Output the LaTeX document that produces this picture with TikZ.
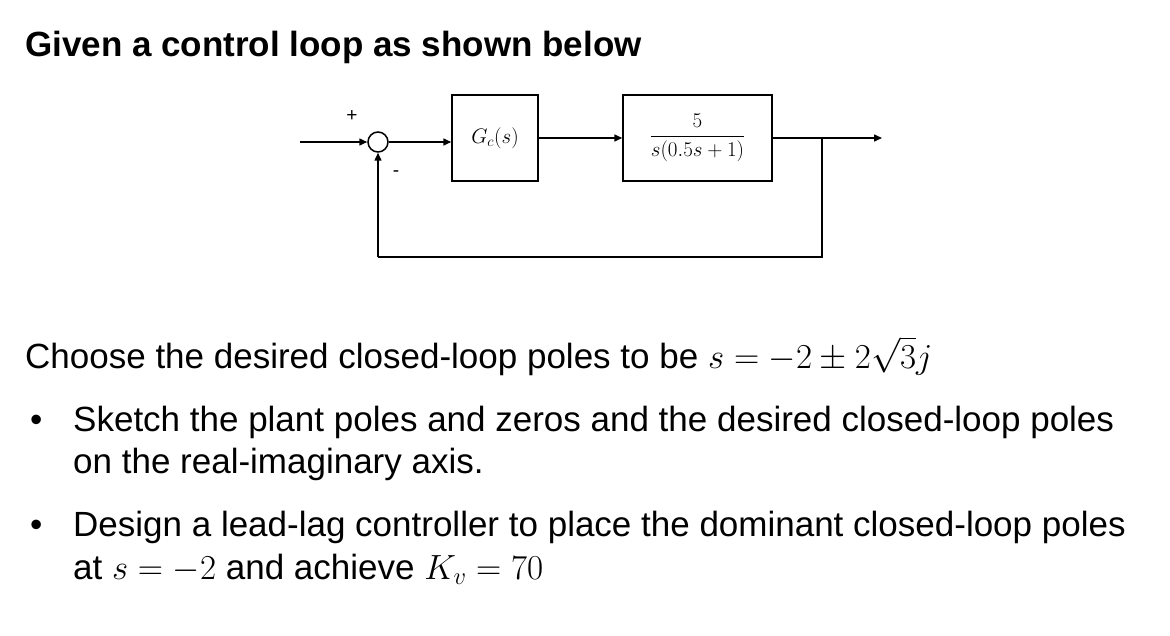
\documentclass[tikz,border=0pt]{standalone}
\usepackage{fix-cm}
\usepackage{amsmath}
\usepackage{fontspec}
\setmainfont{Liberation Sans}
\usetikzlibrary{arrows.meta}
\begin{document}
\begin{tikzpicture}[x=1pt,y=-1pt,
  blk/.style={draw,line width=1.5pt,minimum height=86pt,inner sep=0pt},
  wire/.style={line width=1.5pt},
  arr/.style={wire,-{Triangle[length=8pt,width=7pt]}},
  txt/.style={anchor=base west,inner sep=0pt,font=\fontsize{35}{40}\selectfont}]
\useasboundingbox (0,0) rectangle (1170,636);
\node[anchor=base west,inner sep=0pt,font=\fontsize{35}{40}\selectfont\bfseries] (title) at (25,57) {Given a control loop as shown below};
\node[draw,circle,line width=1.5pt,minimum size=20pt,inner sep=0pt] (sum) at (378,142) {};
\node[blk,minimum width=86pt] (gc) at (495,138) {\fontsize{21}{24}\selectfont$G_c(s)$};
\node[blk,minimum width=149pt] (gp) at (697.5,138) {\fontsize{21}{24}\selectfont$\dfrac{5}{s(0.5s+1)}$};
\coordinate (in) at (300,142);
\coordinate (out) at (882,138);
\coordinate (br) at (822,138);
\coordinate (bl) at (822,257);
\coordinate (fl) at (378,257);
\draw[arr] (in) -- (sum.west);
\draw[arr] (sum.east) -- (gc.west |- sum.east);
\draw[arr] (gc.east) -- (gp.west);
\draw[arr] (gp.east) -- (out);
\draw[wire] (br) -- (bl) -- (fl);
\draw[arr] (fl) -- (sum.south);
\node[font=\fontsize{19}{22}\selectfont] (plus) at (352,116) {+};
\node[font=\fontsize{19}{22}\selectfont] (minus) at (396,174) {-};
\node[txt] (l1) at (25,368) {Choose the desired closed-loop poles to be $s=-2\pm2\sqrt{3}j$};
\node[txt] (b1) at (30,431) {\textbullet};
\node[txt] (l2) at (73,431) {Sketch the plant poles and zeros and the desired closed-loop poles};
\node[txt] (l3) at (73,473) {on the real-imaginary axis.};
\node[txt] (b2) at (30,536) {\textbullet};
\node[txt] (l4) at (73,536) {Design a lead-lag controller to place the dominant closed-loop poles};
\node[txt] (l5) at (73,579) {at $s=-2$ and achieve $K_v=70$};
\end{tikzpicture}
\end{document}
